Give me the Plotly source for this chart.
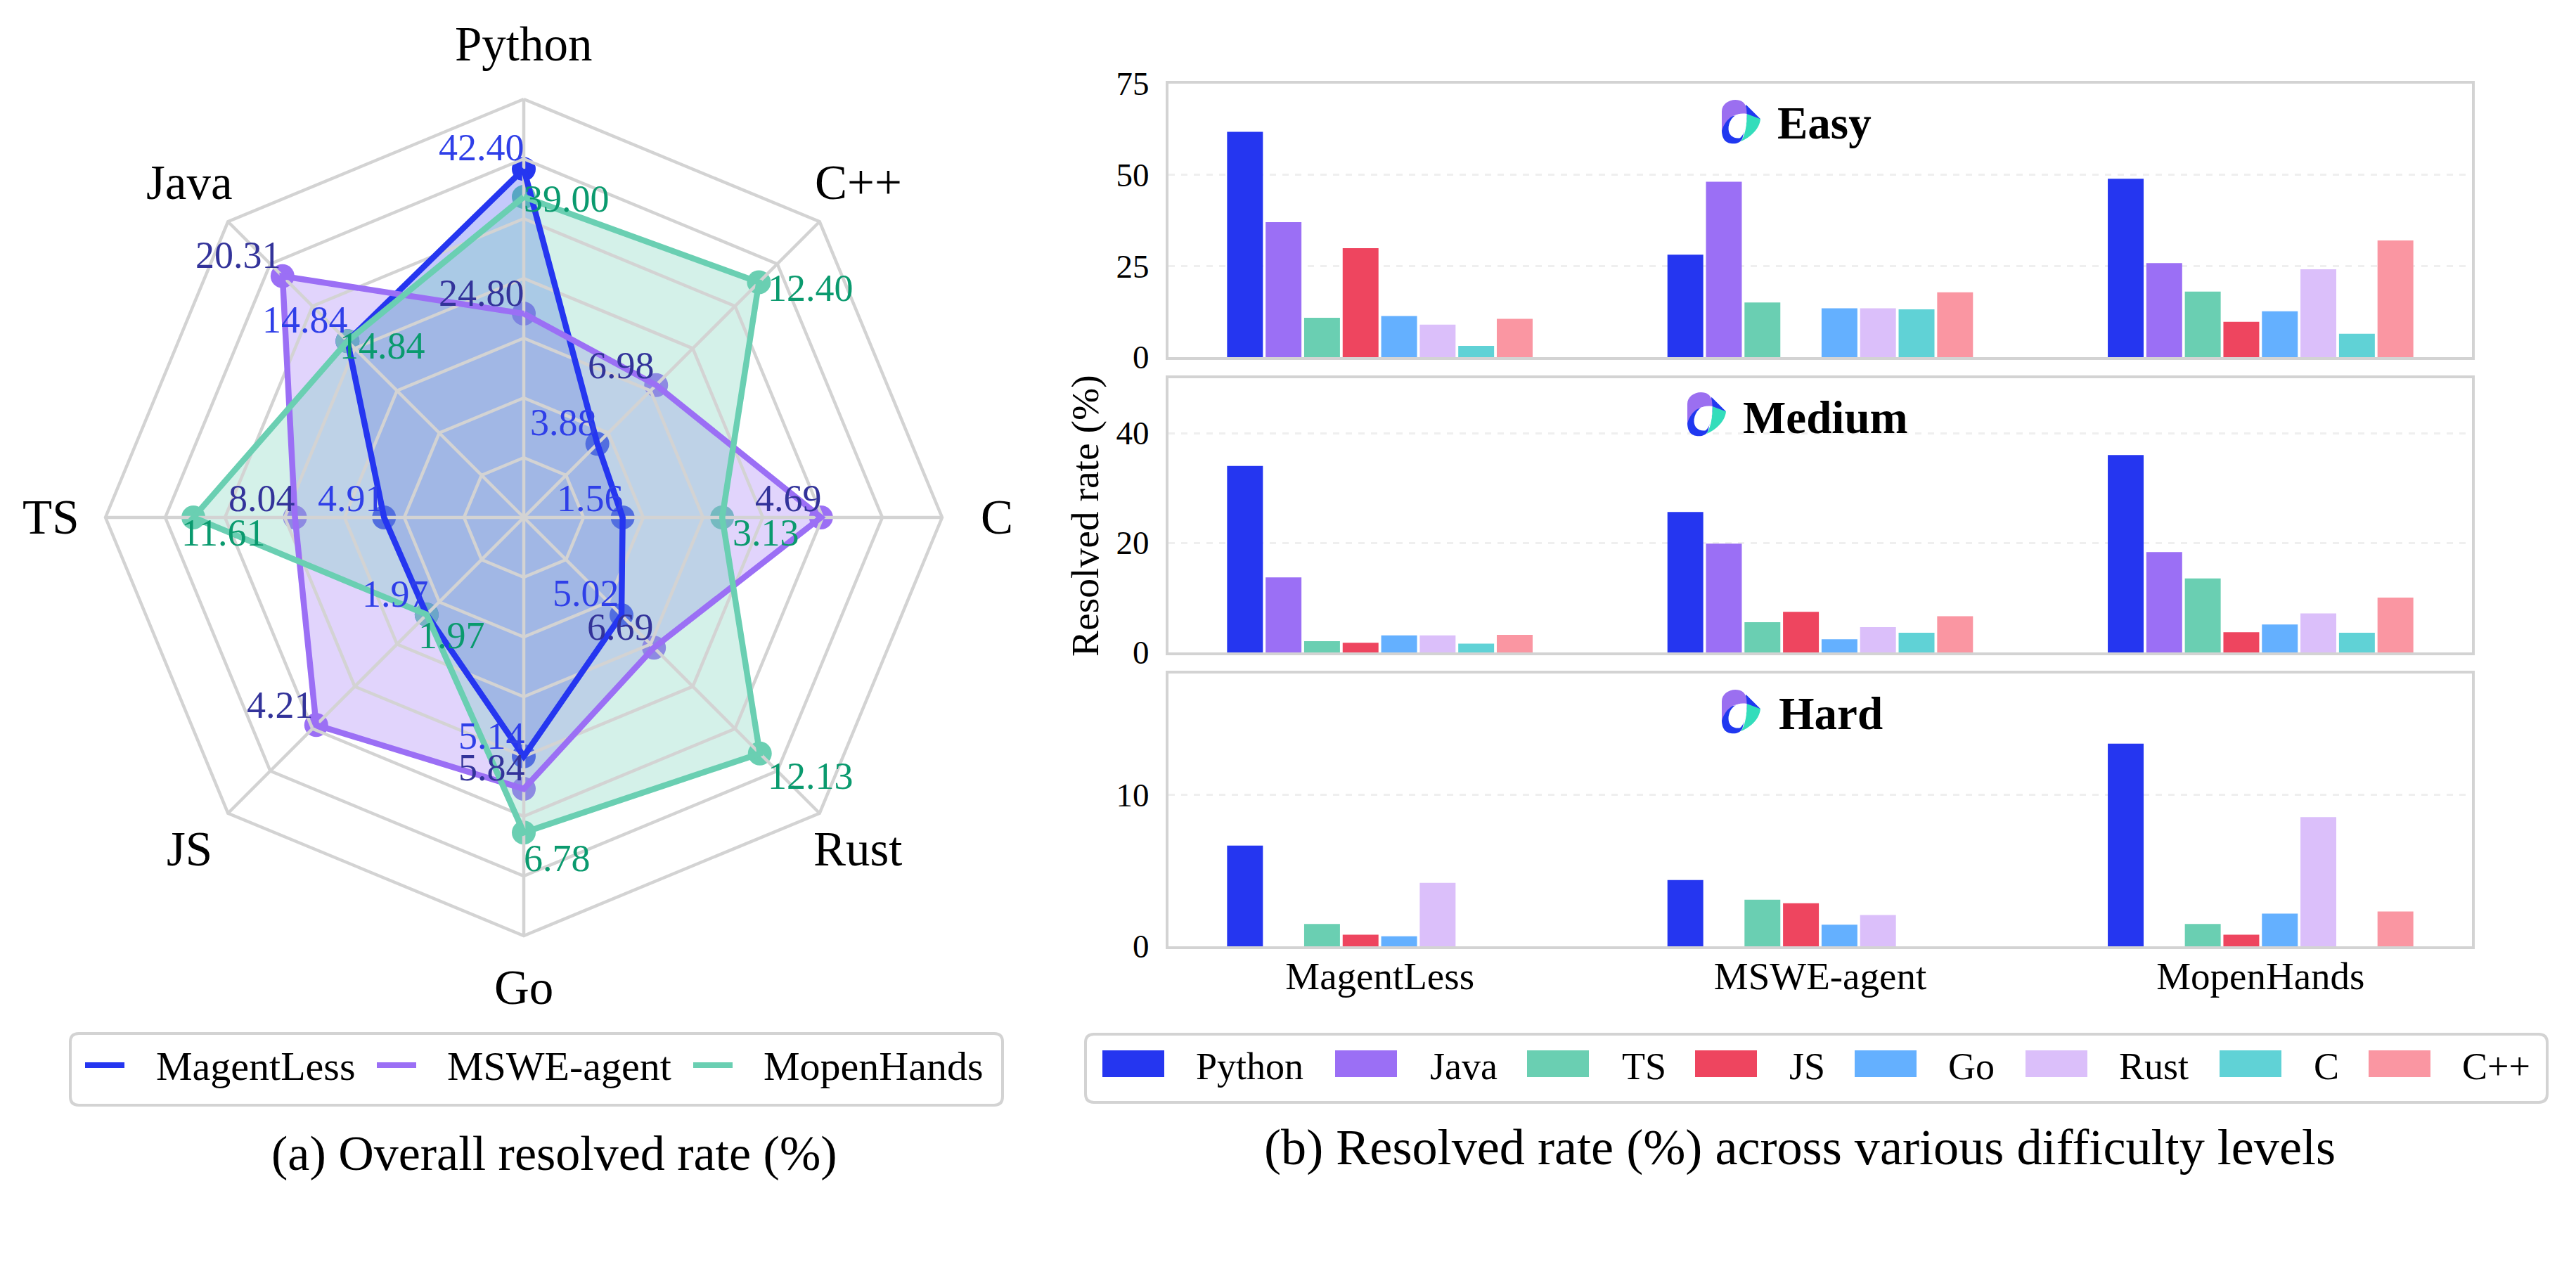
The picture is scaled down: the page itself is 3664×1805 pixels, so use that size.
import plotly.graph_objects as go

W, H = 3664, 1805
SERIF = "Liberation Serif"

# ---------- data ----------
radar_axes = ["Python", "C++", "C", "Rust", "Go", "JS", "TS", "Java"]
axis_max = [50.9, 15.6, 6.6, 15.2, 9.0, 6.0, 14.7, 24.9]
rings = [1, 2, 3, 4, 5, 6, 7]
magentless = [42.40, 3.88, 1.56, 5.02, 5.14, 1.97, 4.91, 14.84]
mswe_agent = [24.80, 6.98, 4.69, 6.69, 5.84, 4.21, 8.04, 20.31]
mopenhands = [39.00, 12.40, 3.13, 12.13, 6.78, 1.97, 11.61, 14.84]

tools = ["MagentLess", "MSWE-agent", "MopenHands"]
languages = ["Python", "Java", "TS", "JS", "Go", "Rust", "C", "C++"]

easy = {
    "Python": [61.8, 28.1, 48.9], "Java": [37.0, 48.1, 25.8], "TS": [10.8, 15.0, 18.0],
    "JS": [29.9, 0, 9.7], "Go": [11.3, 13.4, 12.6], "Rust": [8.9, 13.4, 24.1],
    "C": [3.1, 13.1, 6.4], "C++": [10.5, 17.8, 32.0],
}
medium = {
    "Python": [34.0, 25.6, 36.0], "Java": [13.7, 19.85, 18.3], "TS": [2.06, 5.5, 13.5],
    "JS": [1.76, 7.4, 3.7], "Go": [3.1, 2.4, 5.1], "Rust": [3.1, 4.6, 7.1],
    "C": [1.6, 3.6, 3.6], "C++": [3.2, 6.6, 10.0],
}
hard = {
    "Python": [6.64, 4.37, 13.36], "Java": [0, 0, 0], "TS": [1.47, 3.07, 1.47],
    "JS": [0.76, 2.84, 0.76], "Go": [0.66, 1.42, 2.15], "Rust": [4.18, 2.06, 8.51],
    "C": [0, 0, 0], "C++": [0, 0, 2.29],
}
panel_titles = ["Easy", "Medium", "Hard"]

# ---------- style ----------
BLUE, PURPLE, TEAL = "#2536F0", "#9B6FF5", "#6ACFB2"
tool_colors = [BLUE, PURPLE, TEAL]
tool_fills = ["rgba(37,54,240,0.27)", "rgba(155,111,245,0.30)", "rgba(106,207,178,0.29)"]
label_colors = ["#2F3FE8", "#33339A", "#0A9A6E"]
lang_colors = ["#2536F0", "#9B6FF5", "#6ACFB2", "#EE455F", "#64B0FF", "#DBBFFA", "#60D2D6", "#FA96A2"]
GRID = "#D3D3D3"

# label offsets (pixels) from each vertex, per series, axis order as radar_axes
label_shift = [
    [(-60, -30), (-48, -30), (-46, -27), (-50, -31), (-46, -29), (-44, -29), (-47, -27), (-60, -30)],
    [(-60, -29), (-50, -28), (-46, -27), (-48, -29), (-46, -30), (-51, -28), (-47, -27), (-63, -30)],
    [(61, 3), (74, 8), (62, 22), (72, 32), (47, 37), (36, 30), (43, 22), (50, 7)],
]

CX, CY, R = 745, 736, 595
RANGE_TOP = 7.15  # a little beyond the outer ring so its stroke is not clipped
RD = R * RANGE_TOP / 7
px = lambda x: x / W
py = lambda y: 1 - y / H

fig = go.Figure()

# ---------- radar ----------
def ring_units(vals):
    return [v / m * 7 for v, m in zip(vals, axis_max)]

series = [magentless, mswe_agent, mopenhands]
closed = [ring_units(v) for v in series]
closed = [r + r[:1] for r in closed]
theta = radar_axes + radar_axes[:1]

for name, r, col in zip(tools, closed, tool_colors):
    fig.add_trace(go.Scatterpolar(r=r[:-1], theta=radar_axes, mode="markers", name=name,
                                  marker=dict(color=col, size=34), showlegend=False, subplot="polar", cliponaxis=False))
for name, r, fill in zip(tools, closed, tool_fills):
    fig.add_trace(go.Scatterpolar(r=r, theta=theta, mode="none", name=name, fill="toself", fillcolor=fill,
                                  showlegend=False, subplot="polar"))
# the reference paints its grid above the translucent fills, so it is drawn as traces here
for k in rings:
    fig.add_trace(go.Scatterpolar(r=[k] * len(theta), theta=theta, mode="lines", hoverinfo="skip",
                                  line=dict(color=GRID, width=4.5),
                                  showlegend=False, subplot="polar", cliponaxis=False))
for ax in radar_axes:
    fig.add_trace(go.Scatterpolar(r=[0, rings[-1]], theta=[ax, ax], mode="lines", hoverinfo="skip",
                                  line=dict(color=GRID, width=4.5), showlegend=False, subplot="polar", cliponaxis=False))
for name, r, col in zip(tools, closed, tool_colors):
    fig.add_trace(go.Scatterpolar(r=r, theta=theta, mode="lines", name=name, line=dict(color=col, width=8.5),
                                  showlegend=False, subplot="polar", cliponaxis=False))

fig.update_layout(polar=dict(
    domain=dict(x=[px(CX - RD), px(CX + RD)], y=[py(CY + RD), py(CY - RD)]),
    bgcolor="white", gridshape="linear",
    radialaxis=dict(range=[0, RANGE_TOP], showticklabels=False, ticks="", showline=False, showgrid=False),
    angularaxis=dict(type="category", categoryorder="array", categoryarray=radar_axes,
                     rotation=90, direction="clockwise", showticklabels=False, ticks="",
                     showgrid=False, showline=False),
))

annotations = []
def text(x, y, s, size, color="black", anchor="center", **kw):
    annotations.append(dict(x=px(x), y=py(y), xref="paper", yref="paper", text=s, showarrow=False,
                            xanchor=anchor, yanchor="middle", font=dict(family=SERIF, size=size, color=color), **kw))

SQ = 0.70710678
dirs = [(0, -1), (SQ, -SQ), (1, 0), (SQ, SQ), (0, 1), (-SQ, SQ), (-1, 0), (-SQ, -SQ)]
for lab, (dx, dy) in zip(radar_axes, dirs):
    text(CX + dx * 673, CY + dy * 673 - (4 if dy > 0 else 0), lab, 69)

for vals, col, shifts in zip(series, label_colors, label_shift):
    for v, m, (dx, dy), (sx, sy) in zip(vals, axis_max, dirs, shifts):
        rad = v / m * R
        text(CX + dx * rad + sx, CY + dy * rad + sy, f"{v:.2f}", 54, col)

# ---------- bar panels ----------
panels = [(easy, 75, [0, 25, 50, 75], 119, 508, (2449, 142), (2526, 175)),
          (medium, 50, [0, 20, 40], 538, 928, (2400, 558), (2477, 594)),
          (hard, 18, [0, 10], 957.5, 1346, (2449, 981), (2528, 1015))]

for i, (data, ymax, ticks, top, bot, logo, ttl) in enumerate(panels, start=1):
    xa, ya = f"x{i}" if i > 1 else "x", f"y{i}" if i > 1 else "y"
    for lang, col in zip(languages, lang_colors):
        fig.add_trace(go.Bar(x=tools, y=data[lang], name=lang, marker=dict(color=col, line=dict(width=0)),
                             xaxis=xa, yaxis=ya, showlegend=False))
    fig.layout[f"xaxis{i if i > 1 else ''}"] = dict(
        domain=[px(1662), px(3516)], anchor=ya, type="category", categoryorder="array", categoryarray=tools,
        range=[-0.48, 2.48], showline=True, mirror=True, linecolor=GRID, linewidth=4, ticks="", automargin=False,
        showgrid=False, showticklabels=(i == 3), ticklabelstandoff=-9,
        tickfont=dict(family=SERIF, size=55, color="black"))
    fig.layout[f"yaxis{i if i > 1 else ''}"] = dict(
        domain=[py(bot), py(top)], anchor=xa, range=[0, ymax], tickvals=ticks, showline=True, mirror=True,
        linecolor=GRID, linewidth=4, ticks="", zeroline=False, showgrid=True, gridcolor="#EFEFEF", automargin=False,
        griddash="dash", gridwidth=3, ticklabelstandoff=14, tickfont=dict(family=SERIF, size=47, color="black"))
    text(ttl[0], ttl[1], f"<b>{panel_titles[i - 1]}</b>", 65, anchor="left")

fig.update_layout(barmode="group", bargap=0.30, bargroupgap=0.07)

# ---------- logo, legends, captions as drawn page furniture ----------
shapes = []
def path(cmds, fill, line=None, width=0):
    out = []
    for c in cmds:
        if isinstance(c, str):
            out.append(c)
        else:
            out.append(f"{px(c[0]):.6f},{py(c[1]):.6f}")
    shapes.append(dict(type="path", xref="paper", yref="paper", path=" ".join(out), fillcolor=fill,
                       line=dict(color=line or fill, width=width), layer="above"))

def logo(x0, y0):
    t = lambda a, b: (x0 + (a - 297) / 3, y0 + (b - 125) / 3)
    path(["M", t(297, 255), "C", t(297, 300), t(320, 312), t(345, 312), "C", t(365, 312), t(378, 305), t(385, 290),
          "L", t(410, 185), "L", t(300, 200), "Z"], "#2038F0")
    path(["M", t(400, 145), "L", t(462, 207), "L", t(395, 200), "Z"], "#2038F0")
    path(["M", t(297, 258), "L", t(297, 175), "C", t(297, 145), t(325, 125), t(355, 125), "C", t(380, 125), t(395, 135), t(402, 160),
          "L", t(404, 186), "C", t(360, 180), t(315, 195), t(297, 258), "Z"], "#9B6FF0")
    path(["M", t(404, 185), "L", t(462, 207), "C", t(458, 250), t(420, 285), t(378, 303), "C", t(395, 280), t(404, 240), t(404, 185), "Z"], "#33DDBB")
    path(["M", t(404, 185), "C", t(360, 178), t(332, 200), t(326, 240), "C", t(322, 275), t(345, 292), t(375, 288),
          "C", t(395, 270), t(404, 235), t(404, 185), "Z"], "white")

for _, _, _, _, _, lg, _ in panels:
    logo(*lg)

def rounded_box(x0, y0, x1, y1, rad=12):
    path(["M", (x0 + rad, y0), "L", (x1 - rad, y0), "Q", (x1, y0), (x1, y0 + rad), "L", (x1, y1 - rad),
          "Q", (x1, y1), (x1 - rad, y1), "L", (x0 + rad, y1), "Q", (x0, y1), (x0, y1 - rad),
          "L", (x0, y0 + rad), "Q", (x0, y0), (x0 + rad, y0), "Z"], "white", GRID, 4)

# radar legend
rounded_box(100, 1470, 1426, 1572)
for name, col, lx, tx in zip(tools, tool_colors, [121, 536, 986], [220, 634, 1084]):
    shapes.append(dict(type="line", xref="paper", yref="paper", x0=px(lx), x1=px(lx + 56), y0=py(1515), y1=py(1515),
                       line=dict(color=col, width=8)))
    text(tx, 1516, name, 58, anchor="left")

# bar legend
rounded_box(1544, 1471, 3623, 1568)
swatch_x = [1568, 1899, 2172, 2411, 2638, 2881, 3157, 3369]
label_x = [1699, 2032, 2305, 2543, 2769, 3012, 3289, 3500]
for lang, col, sx, tx in zip(languages, lang_colors, swatch_x, label_x):
    shapes.append(dict(type="rect", xref="paper", yref="paper", x0=px(sx), x1=px(sx + 88), y0=py(1494), y1=py(1532),
                       fillcolor=col, line=dict(width=0)))
    text(tx, 1517, lang, 54, anchor="left")

text(788, 1640, "(a) Overall resolved rate (%)", 70)
text(2560, 1632, "(b) Resolved rate (%) across various difficulty levels", 72.2)
text(1543, 734, "Resolved rate (%)", 55.5, textangle=-90)

fig.update_layout(width=W, height=H, margin=dict(l=0, r=0, t=0, b=0), paper_bgcolor="white",
                  plot_bgcolor="white", showlegend=False, shapes=shapes, annotations=annotations,
                  font=dict(family=SERIF))
fig.write_html("out.html", config={"displayModeBar": False}, post_script="document.body.style.margin='0';")
